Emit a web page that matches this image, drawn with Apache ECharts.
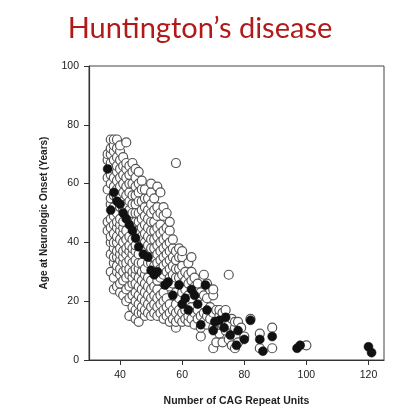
<!DOCTYPE html>
<html>
<head>
<meta charset="utf-8">
<script src="https://cdn.jsdelivr.net/npm/echarts@6/dist/echarts.min.js"></script>
<style>
html,body{margin:0;padding:0;background:#fff;}
#chart{width:400px;height:412px;}
</style>
</head>
<body>
<div id="chart"></div>
<script>
// Open circles: [CAG repeat count, [ages at onset]]
const openGroups = [
  [36, [44, 47, 58, 62, 68, 70]],
  [37, [30, 36, 40, 42, 45, 48, 53, 55, 60, 63, 67, 70, 72, 75]],
  [38, [24, 28, 33, 35, 38, 40, 43, 46, 49, 52, 56, 59, 62, 65, 68, 71, 73, 75]],
  [39, [25, 30, 32, 35, 37, 40, 42, 45, 47, 50, 55, 58, 61, 64, 66, 69, 72, 75]],
  [40, [23, 26, 29, 31, 34, 36, 38, 41, 44, 46, 48, 52, 56, 59, 62, 65, 68, 71, 73]],
  [41, [22, 27, 30, 33, 35, 37, 40, 43, 45, 47, 51, 54, 57, 60, 63, 66, 69]],
  [42, [20, 24, 28, 31, 33, 36, 38, 41, 44, 50, 53, 56, 59, 62, 65, 67, 74]],
  [43, [15, 21, 25, 29, 31, 34, 37, 39, 42, 48, 51, 54, 57, 60, 63, 66]],
  [44, [18, 22, 26, 28, 30, 33, 36, 38, 41, 47, 50, 53, 56, 60, 64, 67]],
  [45, [14, 17, 20, 23, 26, 29, 31, 34, 37, 39, 44, 47, 50, 53, 56, 59, 62, 65]],
  [46, [13, 16, 19, 22, 25, 28, 31, 33, 36, 41, 44, 47, 50, 54, 57, 60, 64]],
  [47, [16, 18, 21, 24, 27, 30, 33, 39, 42, 45, 48, 51, 54, 58, 61]],
  [48, [15, 17, 20, 23, 26, 29, 31, 37, 40, 43, 46, 49, 52, 55, 58]],
  [49, [16, 19, 22, 25, 28, 33, 36, 39, 42, 45, 48, 51, 55]],
  [50, [15, 18, 21, 24, 27, 33, 35, 38, 41, 44, 47, 50, 53, 57, 60]],
  [51, [16, 19, 22, 25, 32, 35, 38, 41, 44, 47, 51, 55]],
  [52, [15, 18, 21, 24, 27, 33, 36, 39, 42, 45, 49, 52, 59]],
  [53, [16, 19, 22, 28, 31, 34, 37, 40, 43, 46, 50, 57]],
  [54, [14, 17, 20, 23, 29, 32, 35, 38, 41, 44, 49, 52]],
  [55, [15, 18, 21, 30, 33, 36, 39, 42, 45, 50]],
  [56, [13, 16, 19, 25, 28, 31, 34, 37, 40, 44, 47]],
  [57, [14, 17, 26, 29, 32, 35, 38, 41]],
  [58, [11, 13, 16, 19, 23, 28, 31, 34, 37, 67]],
  [59, [14, 17, 21, 28, 31, 35, 38]],
  [60, [13, 16, 23, 26, 29, 32, 35, 37]],
  [61, [14, 17, 24, 27, 30]],
  [62, [13, 15, 20, 22, 26, 29, 33]],
  [63, [14, 18, 21, 27, 30, 35]],
  [64, [12, 16, 25, 28]],
  [65, [14, 17, 22, 26]],
  [66, [8, 11, 15, 20, 23]],
  [67, [13, 16, 19, 22, 29]],
  [68, [12, 15, 21, 26]],
  [69, [14, 18, 24]],
  [70, [4, 11, 16, 22, 24]],
  [71, [6, 13, 17]],
  [72, [9, 15, 17]],
  [73, [6, 12, 16]],
  [74, [10, 17]],
  [75, [7, 12, 29]],
  [76, [5, 14]],
  [77, [4, 11, 13]],
  [78, [6, 13]],
  [79, [11]],
  [80, [8]],
  [82, [14]],
  [85, [4, 9]],
  [89, [4, 11]],
  [100, [5]]
];

// Filled circles: [CAG repeat count, age at onset]
const filledPoints = [
  [36, 65], [38, 57], [39, 54], [40, 53], [37, 51], [41, 50], [42, 48], [43, 46],
  [44, 44], [45, 41.5], [46, 38.5], [47.5, 36], [49, 35], [50, 30.5], [51, 29], [52, 30],
  [54.5, 25.5], [55.5, 26.5], [57, 22], [59, 25.5], [60, 19], [61, 21], [62, 17], [63, 24],
  [64, 22], [65, 19], [67.5, 25.5], [68, 17], [66, 12], [70, 10], [70.5, 13], [72, 13.5],
  [73.5, 11], [74, 14.5], [75.5, 8.5], [78, 10], [77.5, 5], [80, 7], [82, 13.5], [85, 7],
  [86, 3], [89, 8], [97, 4], [98, 5], [120, 4.5], [121, 2.5]
];

const xTicks = [40, 60, 80, 100, 120];
const yTicks = [0, 20, 40, 60, 80, 100];

const titleText = 'Huntington\u2019s disease';
const xName = 'Number of CAG Repeat Units';
const yName = 'Age at Neurologic Onset (Years)';

const openPoints = [];
openGroups.forEach(function (g) {
  g[1].forEach(function (y) { openPoints.push([g[0], y]); });
});

const chart = echarts.init(document.getElementById('chart'), null, {renderer: 'canvas'});
chart.setOption({
  animation: false,
  backgroundColor: '#ffffff',
  title: {
    text: titleText,
    left: 'center',
    top: 9,
    textStyle: {
      fontFamily: 'Lato',
      fontWeight: 'normal',
      fontSize: 29,
      color: '#b21a1a'
    }
  },
  grid: {
    left: 89,
    right: 16,
    top: 66,
    bottom: 52,
    show: true,
    borderColor: '#444',
    borderWidth: 1,
    backgroundColor: 'transparent'
  },
  xAxis: {
    type: 'value',
    min: 30,
    max: 125,
    name: xName,
    nameLocation: 'middle',
    nameGap: 36,
    nameTextStyle: {fontFamily: 'Liberation Sans', fontWeight: 'bold', fontSize: 10.5, color: '#222'},
    axisLine: {show: true, onZero: false, lineStyle: {color: '#333', width: 1.2}},
    axisTick: {show: true, length: 5, customValues: xTicks, lineStyle: {color: '#333'}},
    axisLabel: {customValues: xTicks, margin: 10, fontFamily: 'Liberation Sans', fontSize: 10.5, color: '#222'},
    splitLine: {show: false}
  },
  yAxis: {
    type: 'value',
    min: 0,
    max: 100,
    interval: 20,
    name: yName,
    nameLocation: 'middle',
    nameGap: 40,
    nameTextStyle: {fontFamily: 'Liberation Sans', fontWeight: 'bold', fontSize: 10, color: '#222'},
    axisLine: {show: true, onZero: false, lineStyle: {color: '#333', width: 1.2}},
    axisTick: {show: true, length: 5, lineStyle: {color: '#333'}},
    axisLabel: {margin: 10, fontFamily: 'Liberation Sans', fontSize: 10.5, color: '#222'},
    splitLine: {show: false}
  },
  series: [
    {
      type: 'scatter',
      silent: true,
      symbol: 'circle',
      symbolSize: 9,
      data: openPoints,
      itemStyle: {color: '#ffffff', borderColor: '#555', borderWidth: 1.2, opacity: 1}
    },
    {
      type: 'scatter',
      silent: true,
      symbol: 'circle',
      symbolSize: 9,
      data: filledPoints,
      itemStyle: {color: '#111111', borderColor: '#111', borderWidth: 0.5, opacity: 1}
    }
  ]
});
</script>
</body>
</html>
